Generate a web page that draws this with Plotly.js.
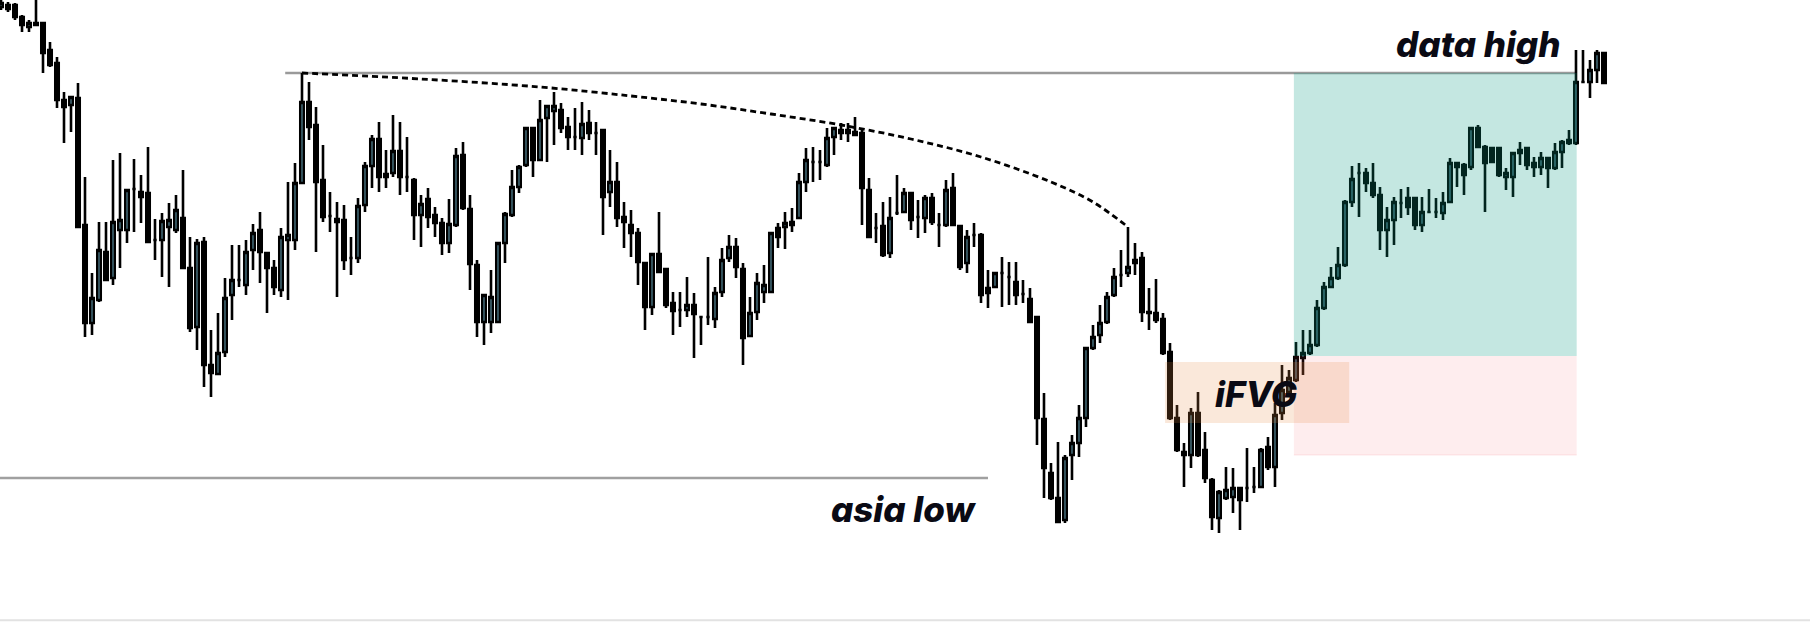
<!DOCTYPE html>
<html>
<head>
<meta charset="utf-8">
<script src="https://cdn.plot.ly/plotly-3.0.1.min.js"></script>
<style>
html,body{margin:0;padding:0;background:#ffffff;}
#chart{width:1810px;height:622px;}
</style>
</head>
<body>
<div id="chart"></div>
<script>
// ---- candle data (price units) ----
const opens = [993,995,995,983,973,977,977,950,937,900,895,902,775,677,700,748,722,770,770,811,
808,807,760,760,773,770,782,732,673,758,635,626,648,705,720,715,750,770,747,732,
710,760,760,817,898,875,820,784,781,780,742,742,795,834,861,826,827,849,823,820,
785,801,785,777,757,775,845,791,735,678,678,678,757,785,813,835,872,840,882,889,
890,873,863,862,877,867,870,808,818,783,775,767,737,693,746,731,697,690,690,695,
683,683,681,708,742,753,731,664,688,708,708,772,773,775,782,818,838,838,835,863,
870,867,865,867,810,772,774,747,787,788,807,783,782,802,775,775,812,774,737,765,
765,712,713,727,723,718,706,701,683,581,527,502,480,545,557,582,652,665,678,705,
725,727,740,742,688,687,681,648,582,548,545,587,550,520,482,502,503,512,512,513,
513,553,533,587,608,620,642,647,655,692,713,722,735,798,827,827,817,805,770,780,
797,802,802,775,788,788,787,798,837,835,833,872,853,852,852,823,823,847,852,837,
833,842,832,848,857,857,918,918,930,947];
const highs = [1000,998,997,985,980,1000,977,958,943,908,903,917,823,727,778,778,840,847,810,841,
825,853,781,787,797,805,830,763,761,763,670,687,722,755,755,760,776,788,748,740,
772,818,837,927,918,893,855,808,798,795,763,802,838,865,878,850,885,878,863,822,
805,812,793,782,801,852,858,805,740,705,730,758,788,830,835,873,872,900,895,908,
897,883,892,898,890,878,871,850,838,798,790,772,738,747,788,732,708,708,723,707,
683,743,713,752,765,762,737,703,727,735,768,777,788,792,827,852,853,850,872,873,
877,877,883,871,822,787,798,803,825,812,807,800,805,807,787,820,827,775,770,777,
767,730,728,743,738,738,720,712,683,607,537,558,545,565,595,653,675,695,708,732,
750,773,757,748,712,721,687,657,595,557,592,608,568,522,510,533,532,513,552,533,
552,563,597,635,630,658,670,670,700,718,733,753,800,834,837,832,837,813,793,803,
811,813,803,803,811,802,808,842,838,837,873,875,855,853,853,832,848,858,853,843,
848,843,857,860,870,950,950,940,950,947];
const lows = [990,988,980,968,968,975,927,933,892,857,868,772,663,665,698,720,715,732,757,768,
777,757,740,723,713,767,732,668,650,613,603,625,643,680,713,705,730,717,687,705,
703,700,750,817,860,748,778,768,703,730,725,737,788,812,808,812,823,805,808,760,
753,772,763,745,747,773,790,710,663,655,667,677,737,783,807,833,823,840,838,855,
867,850,850,845,860,845,765,793,773,752,743,715,670,685,728,692,665,673,683,642,
655,675,672,703,738,722,635,663,680,697,707,752,751,768,782,808,818,820,833,845,
860,858,865,775,762,757,743,742,785,787,770,762,767,775,753,773,775,730,727,753,
697,692,712,693,695,695,697,678,555,502,500,477,477,520,543,573,650,657,676,703,
713,723,725,678,670,677,645,580,548,513,532,543,517,470,467,500,487,470,498,507,
512,530,513,580,607,618,625,645,653,690,712,720,733,793,783,808,802,750,743,755,
782,785,770,768,787,782,780,797,813,805,830,852,788,837,823,810,803,835,830,823,
825,812,830,832,855,855,917,902,917,917];
const closes = [997,991,983,975,977,975,947,935,900,893,903,773,677,702,750,720,778,780,810,811,
803,758,760,779,780,790,732,672,757,635,627,647,702,720,720,748,767,748,732,713,
763,765,817,898,873,818,783,784,778,740,742,794,834,861,823,823,849,823,823,785,
796,783,777,757,776,844,792,736,678,705,703,757,786,813,833,872,840,880,894,894,
872,863,863,876,867,867,803,818,782,778,767,738,693,746,728,695,689,690,695,686,
683,683,707,740,753,733,662,687,717,715,767,763,777,778,818,840,838,838,862,872,
867,870,868,812,763,772,745,782,787,807,780,783,802,778,775,810,775,733,763,765,
705,707,727,727,723,705,706,678,582,532,502,478,542,557,582,652,663,677,703,723,
725,733,737,688,687,680,647,582,550,545,587,545,522,483,508,510,512,500,512,513,
550,533,585,610,622,643,647,655,692,713,722,735,798,821,827,817,805,770,780,798,
797,793,775,788,788,788,797,837,833,825,872,853,837,838,825,827,847,850,835,833,
842,832,848,858,860,918,918,930,947,917];
const barIndex = opens.map((_, i) => i);

// dashed curve joining the swing highs (bar index, price)
const curveBars   = [43, 60, 77, 90, 100, 110, 120, 130, 140, 150, 156, 161];
const curvePrices = [927, 921, 913, 904, 896, 886, 875, 861, 843, 818, 798, 773];

// levels and zones (bar index / price)
const dataHighPrice = 927, dataHighFrom = 40.6, dataHighTo = 225.1;
const asiaLowPrice = 522, asiaLowFrom = -1, asiaLowTo = 141;
const zoneFrom = 184.7, zoneTo = 225.1, targetPrice = 927, entryPrice = 644, stopPrice = 545;
const fvgFrom = 166.3, fvgTo = 192.6, fvgTop = 638, fvgBottom = 577;

// labels
const labelTexts  = ['data high', 'asia low', 'iFVG'];
const labelBars   = [223, 139.6, 179.3];
const labelPrices = [956, 491, 606];
const labelAnchors = ['right', 'right', 'center'];

const candles = {
  type: 'candlestick',
  x: barIndex, open: opens, high: highs, low: lows, close: closes,
  increasing: {line: {color: '#000000', width: 2.6}, fillcolor: '#7cc3dc'},
  decreasing: {line: {color: '#000000', width: 2.6}, fillcolor: '#000000'},
  whiskerwidth: 0,
  hoverinfo: 'skip',
  showlegend: false
};

const curve = {
  type: 'scatter', mode: 'lines',
  x: curveBars, y: curvePrices,
  line: {color: '#000000', width: 2.8, dash: '6px,4px', shape: 'spline'},
  hoverinfo: 'skip', showlegend: false
};

const shapes = [
  {type: 'line', xref: 'x', yref: 'y', x0: dataHighFrom, x1: dataHighTo, y0: dataHighPrice, y1: dataHighPrice,
   line: {color: '#9a9a9a', width: 2.6}, layer: 'below'},
  {type: 'line', xref: 'x', yref: 'y', x0: asiaLowFrom, x1: asiaLowTo, y0: asiaLowPrice, y1: asiaLowPrice,
   line: {color: '#a0a0a0', width: 2.6}, layer: 'below'},
  {type: 'rect', xref: 'x', yref: 'y', x0: zoneFrom, x1: zoneTo, y0: entryPrice, y1: targetPrice,
   fillcolor: 'rgba(8,153,129,0.24)', line: {width: 0}, layer: 'above'},
  {type: 'rect', xref: 'x', yref: 'y', x0: zoneFrom, x1: zoneTo, y0: stopPrice, y1: entryPrice,
   fillcolor: 'rgba(242,54,69,0.09)', line: {width: 0}, layer: 'above'},
  {type: 'line', xref: 'x', yref: 'y', x0: zoneFrom, x1: zoneTo, y0: stopPrice, y1: stopPrice,
   line: {color: 'rgba(242,54,69,0.12)', width: 1}, layer: 'above'},
  {type: 'rect', xref: 'x', yref: 'y', x0: fvgFrom, x1: fvgTo, y0: fvgBottom, y1: fvgTop,
   fillcolor: 'rgba(228,140,70,0.2)', line: {width: 0}, layer: 'above'},
  {type: 'line', xref: 'paper', yref: 'paper', x0: 0, x1: 1, y0: 0.003, y1: 0.003,
   line: {color: '#e2e2e2', width: 2}, layer: 'above'}
];

const annotations = labelTexts.map((t, i) => ({
  text: t, x: labelBars[i], y: labelPrices[i], xref: 'x', yref: 'y',
  xanchor: labelAnchors[i], yanchor: 'middle', showarrow: false,
  font: {family: 'Inter, Roboto, sans-serif', size: 35, color: '#0a0a14', weight: 800, style: 'italic'}
}));

const layout = {
  width: 1810, height: 622,
  margin: {l: 0, r: 0, t: 0, b: 0, pad: 0},
  paper_bgcolor: '#ffffff', plot_bgcolor: '#ffffff',
  showlegend: false,
  xaxis: {range: [-0.143, 258.43], visible: false, showgrid: false, zeroline: false,
          rangeslider: {visible: false}, fixedrange: true},
  yaxis: {range: [378, 1000], visible: false, showgrid: false, zeroline: false, fixedrange: true},
  shapes: shapes,
  annotations: annotations,
  hovermode: false
};

Plotly.newPlot('chart', [candles, curve], layout, {staticPlot: true, displayModeBar: false});
</script>
</body>
</html>
